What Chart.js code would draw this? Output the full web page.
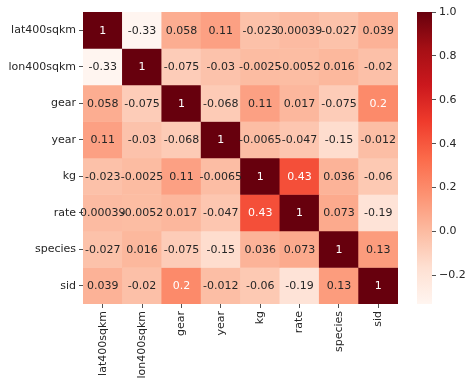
<!DOCTYPE html>
<html>
<head>
<meta charset="utf-8">
<script src="https://cdn.jsdelivr.net/npm/chart.js@4.4.1/dist/chart.umd.min.js"></script>
<style>
  html, body { margin: 0; padding: 0; background: #fff; }
  #wrap { position: relative; width: 474px; height: 387px; }
  #heat { position: absolute; left: 0; top: 0; }
  #cbar { position: absolute; left: 417px; top: 0; }
</style>
</head>
<body>
<div id="wrap">
  <canvas id="heat" width="474" height="387"></canvas>
  <canvas id="cbar" width="57" height="387"></canvas>
</div>
<script>
// variáveis (linhas e colunas da matriz)
const varNames = ['lat400sqkm', 'lon400sqkm', 'gear', 'year', 'kg', 'rate', 'species', 'sid'];

// correlações, uma linha por variável
const rowLat     = [1, -0.33, 0.058, 0.11, -0.023, 0.00039, -0.027, 0.039];
const rowLon     = [-0.33, 1, -0.075, -0.03, -0.0025, -0.0052, 0.016, -0.02];
const rowGear    = [0.058, -0.075, 1, -0.068, 0.11, 0.017, -0.075, 0.2];
const rowYear    = [0.11, -0.03, -0.068, 1, -0.0065, -0.047, -0.15, -0.012];
const rowKg      = [-0.023, -0.0025, 0.11, -0.0065, 1, 0.43, 0.036, -0.06];
const rowRate    = [0.00039, -0.0052, 0.017, -0.047, 0.43, 1, 0.073, -0.19];
const rowSpecies = [-0.027, 0.016, -0.075, -0.15, 0.036, 0.073, 1, 0.13];
const rowSid     = [0.039, -0.02, 0.2, -0.012, -0.06, -0.19, 0.13, 1];
const corrRows = [rowLat, rowLon, rowGear, rowYear, rowKg, rowRate, rowSpecies, rowSid];

// escala de cor (colorbar)
const vmin = -0.33, vmax = 1;
const cbTicks = [-0.2, 0, 0.2, 0.4, 0.6, 0.8, 1.0];

// paleta Reds (matplotlib)
const REDS = ['#fff5f0', '#fee0d2', '#fcbba1', '#fc9272', '#fb6a4a', '#ef3b2c', '#cb181d', '#a50f15', '#67000d'];
const FONT = { family: "'DejaVu Sans', sans-serif", size: 11 };
const TXT = '#262626';

function hexRgb(h) { return [1, 3, 5].map(i => parseInt(h.substr(i, 2), 16)); }
function redsRgb(t) {
  t = Math.max(0, Math.min(1, t));
  const p = t * (REDS.length - 1), i = Math.min(Math.floor(p), REDS.length - 2), f = p - i;
  const a = hexRgb(REDS[i]), b = hexRgb(REDS[i + 1]);
  return a.map((v, k) => Math.round(v + (b[k] - v) * f));
}
const norm = v => (v - vmin) / (vmax - vmin);
const corCel = v => { const c = redsRgb(norm(v)); return `rgb(${c[0]},${c[1]},${c[2]})`; };
function luminancia(rgb) {
  const c = rgb.map(v => { v /= 255; return v <= 0.03928 ? v / 12.92 : Math.pow((v + 0.055) / 1.055, 2.4); });
  return 0.2126 * c[0] + 0.7152 * c[1] + 0.0722 * c[2];
}
// mesma regra do seaborn: texto escuro em célula clara, branco em célula escura
const corTexto = v => luminancia(redsRgb(norm(v))) > 0.408 ? TXT : '#ffffff';

// plugin leve que escreve o valor no centro de cada célula
const rotuloCel = {
  id: 'rotuloCel',
  afterDatasetsDraw(chart) {
    const ctx = chart.ctx;
    ctx.save();
    ctx.font = `${FONT.size}px ${FONT.family}`;
    ctx.textAlign = 'center';
    ctx.textBaseline = 'middle';
    chart.data.datasets.forEach((ds, r) => {
      chart.getDatasetMeta(r).data.forEach((bar, j) => {
        const v = corrRows[r][j];
        const p = bar.getCenterPoint();
        ctx.fillStyle = corTexto(v);
        ctx.fillText(String(v), p.x, p.y + 0.5);
      });
    });
    ctx.restore();
  }
};

new Chart(document.getElementById('heat'), {
  type: 'bar',
  data: {
    labels: varNames,
    datasets: corrRows.map((row, r) => ({
      data: row.map(() => [r, r + 1]),
      backgroundColor: row.map(corCel),
      borderWidth: 0,
      barPercentage: 1,
      categoryPercentage: 1,
      grouped: false
    }))
  },
  plugins: [rotuloCel],
  options: {
    responsive: false,
    animation: false,
    events: [],
    layout: { padding: { left: 0, top: 12, right: 76, bottom: 0 } },
    plugins: { legend: { display: false }, tooltip: { enabled: false } },
    scales: {
      x: {
        type: 'category',
        offset: true,
        grid: { offset: false, drawOnChartArea: false, tickLength: 4, color: TXT, tickWidth: 0.8 },
        border: { display: false },
        ticks: { minRotation: 90, maxRotation: 90, autoSkip: false, padding: 3, color: TXT, font: FONT },
        afterFit: s => { s.height = 83; }
      },
      y: {
        type: 'linear',
        min: 0, max: 8, reverse: true,
        afterBuildTicks: s => { s.ticks = varNames.map((_, i) => ({ value: i + 0.5 })); },
        grid: { drawOnChartArea: false, tickLength: 4, color: TXT, tickWidth: 0.8 },
        border: { display: false },
        ticks: { callback: (v, i) => varNames[i], autoSkip: false, padding: 3, color: TXT, font: FONT },
        afterFit: s => { s.width = 83; }
      }
    }
  }
});

// colorbar
new Chart(document.getElementById('cbar'), {
  type: 'bar',
  data: {
    labels: [''],
    datasets: [{
      data: [[vmin, vmax]],
      backgroundColor: c => {
        const ch = c.chart, y = ch.scales.y;
        if (!ch.chartArea || !y) return REDS[4];
        const g = ch.ctx.createLinearGradient(0, y.getPixelForValue(vmin), 0, y.getPixelForValue(vmax));
        REDS.forEach((h, i) => g.addColorStop(i / (REDS.length - 1), h));
        return g;
      },
      borderWidth: 0,
      barPercentage: 1,
      categoryPercentage: 1
    }]
  },
  options: {
    responsive: false,
    animation: false,
    events: [],
    layout: { padding: { left: 0, top: 12, right: 0, bottom: 83 } },
    plugins: { legend: { display: false }, tooltip: { enabled: false } },
    scales: {
      x: { display: false },
      y: {
        position: 'right',
        min: vmin, max: vmax,
        afterBuildTicks: s => { s.ticks = cbTicks.map(v => ({ value: v })); },
        grid: { drawOnChartArea: false, tickLength: 4, color: TXT, tickWidth: 0.8 },
        border: { display: false },
        ticks: { callback: v => v.toFixed(1).replace('-', '\u2212'), padding: 3, color: TXT, font: FONT },
        afterFit: s => { s.width = 42; }
      }
    }
  }
});
</script>
</body>
</html>
